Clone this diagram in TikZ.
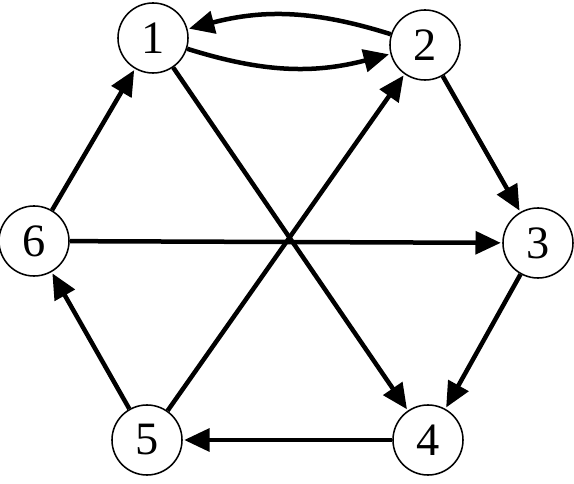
\documentclass[tikz,border=0pt]{standalone}
\usepackage{fontspec}
\setmainfont{Liberation Serif}
\usetikzlibrary{arrows.meta}

\begin{document}
\begin{tikzpicture}[x=0.025cm,y=-0.025cm,>=Stealth,
  state/.style={draw,circle,line width=1.1pt,minimum size=1.75cm,inner sep=0pt,
    font=\fontsize{33}{33}\selectfont,fill=white},
  edge/.style={-{Triangle[length=18pt,width=16pt]},line width=3.2pt,shorten >=1pt},
]
\useasboundingbox (0,0) rectangle (574,484);

\node[state] (n1) at (153,38) {1};
\node[state] (n2) at (425,45) {2};
\node[state] (n3) at (538,243) {3};
\node[state] (n4) at (428,440) {4};
\node[state] (n5) at (147,440) {5};
\node[state] (n6) at (34,241) {6};

% outer ring
\draw[edge] (n2) to[bend right=16] (n1);
\draw[edge] (n1) to[bend right=16] (n2);
\draw[edge] (n2) -- (n3);
\draw[edge] (n3) -- (n4);
\draw[edge] (n4) -- (n5);
\draw[edge] (n5) -- (n6);
\draw[edge] (n6) -- (n1);

% diagonals
\draw[edge] (n1) -- (n4);
\draw[edge] (n5) -- (n2);
\draw[edge] (n6) -- (n3);

\end{tikzpicture}
\end{document}
